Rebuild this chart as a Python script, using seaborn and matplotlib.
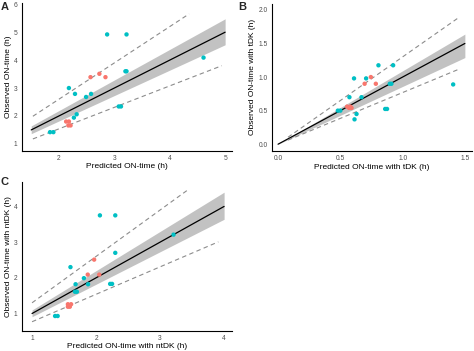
import numpy as np
import pandas as pd
import matplotlib
matplotlib.use("Agg")
import matplotlib.pyplot as plt
import seaborn as sns

sns.set_style("white")
plt.rcParams['font.family'] = ['Liberation Sans', 'DejaVu Sans']

TEAL = "#00BFC4"
SALMON = "#F8766D"

# ---- Panel A data ----
a_teal_x = [2.87, 3.22, 4.61, 3.20, 3.22, 2.18, 2.29, 2.58, 2.49, 3.08, 3.12, 2.32, 2.27, 1.84, 1.90]
a_teal_y = [4.92, 4.92, 4.09, 3.60, 3.60, 3.00, 2.79, 2.79, 2.68, 2.34, 2.34, 2.06, 1.94, 1.42, 1.42]
a_sal_x = [2.73, 2.57, 2.84, 2.13, 2.18, 2.17, 2.21]
a_sal_y = [3.51, 3.39, 3.39, 1.80, 1.80, 1.66, 1.66]

# ---- Panel B data ----
b_teal_x = [0.806, 0.924, 0.61, 0.707, 0.897, 0.91, 1.406, 0.573, 0.67, 0.48, 0.50, 0.86, 0.875, 0.63, 0.614]
b_teal_y = [1.175, 1.175, 0.98, 0.98, 0.90, 0.90, 0.89, 0.70, 0.70, 0.50, 0.50, 0.525, 0.525, 0.45, 0.37]
b_sal_x = [0.745, 0.695, 0.785, 0.554, 0.58, 0.57, 0.59]
b_sal_y = [1.00, 0.90, 0.90, 0.56, 0.56, 0.54, 0.54]

# ---- Panel C data ----
c_teal_x = [2.06, 2.30, 3.21, 2.30, 1.60, 1.81, 1.68, 1.875, 2.22, 2.25, 1.67, 1.70, 1.36, 1.40]
c_teal_y = [3.75, 3.75, 3.21, 2.70, 2.30, 1.99, 1.82, 1.82, 1.83, 1.83, 1.61, 1.61, 0.93, 0.93]
c_sal_x = [1.97, 1.87, 2.05, 1.56, 1.61, 1.56, 1.59]
c_sal_y = [2.51, 2.09, 2.09, 1.26, 1.26, 1.19, 1.19]

# fit line ranges, CI slopes (through origin), +/-30% dashed ranges
fit_range = {"A": (1.5, 5.0), "B": (0.0, 1.5), "C": (1.0, 4.0)}
ci_slopes = {"A": (0.91, 1.096), "B": (0.86, 1.093), "C": (0.91, 1.10)}
upper_range = {"A": (1.53, 4.35), "B": (0.08, 1.46), "C": (1.0, 3.45)}
lower_range = {"A": (1.53, 4.94), "B": (0.08, 1.46), "C": (1.0, 3.91)}
limit_factor = 1.3

x_labels = {"A": "Predicted ON-time (h)", "B": "Predicted ON-time with tDK (h)",
            "C": "Predicted ON-time with ntDK (h)"}
y_labels = {"A": "Observed ON-time (h)", "B": "Observed ON-time with tDK (h)",
            "C": "Observed ON-time with ntDK (h)"}
xticks = {"A": [2, 3, 4, 5], "B": [0.0, 0.5, 1.0, 1.5], "C": [1, 2, 3, 4]}
yticks = {"A": [1, 2, 3, 4, 5, 6], "B": [0.0, 0.5, 1.0, 1.5, 2.0], "C": [1, 2, 3, 4]}
xlims = {"A": (1.33, 5.12), "B": (-0.048, 1.558), "C": (0.84, 4.12)}
ylims = {"A": (0.76, 6.04), "B": (-0.10, 2.095), "C": (0.52, 4.69)}

data = {
    "A": (a_teal_x, a_teal_y, a_sal_x, a_sal_y),
    "B": (b_teal_x, b_teal_y, b_sal_x, b_sal_y),
    "C": (c_teal_x, c_teal_y, c_sal_x, c_sal_y),
}

fig = plt.figure(figsize=(4.74, 3.51), dpi=100)
positions = {
    "A": [0.046, 0.571, 0.443, 0.420],
    "B": [0.574, 0.570, 0.422, 0.420],
    "C": [0.046, 0.058, 0.443, 0.424],
}
letter_pos = {"A": (0.002, 0.995), "B": (0.502, 0.995), "C": (0.002, 0.497)}

for key in ["A", "B", "C"]:
    ax = fig.add_axes(positions[key])
    tx, ty, sx, sy = data[key]
    df = pd.DataFrame({
        "x": tx + sx,
        "y": ty + sy,
        "group": ["teal"] * len(tx) + ["salmon"] * len(sx),
    })
    x0, x1 = fit_range[key]
    xs = np.linspace(x0, x1, 50)
    lo, hi = ci_slopes[key]
    ax.fill_between(xs, xs * lo, xs * hi, color="#A9A9A9", alpha=0.7, lw=0, zorder=1)
    ax.plot(xs, xs, color="black", lw=0.9, zorder=2)
    ux = np.array(upper_range[key])
    lx = np.array(lower_range[key])
    ax.plot(ux, ux * limit_factor, color="#8C8C8C", lw=0.8, ls=(0, (4, 3)), zorder=2)
    ax.plot(lx, lx / limit_factor, color="#8C8C8C", lw=0.8, ls=(0, (4, 3)), zorder=2)
    sns.scatterplot(data=df, x="x", y="y", hue="group",
                    palette={"teal": TEAL, "salmon": SALMON},
                    s=10, linewidth=0, legend=False, ax=ax, zorder=3)
    ax.set_xlim(*xlims[key])
    ax.set_ylim(*ylims[key])
    ax.set_xticks(xticks[key])
    ax.set_yticks(yticks[key])
    if key == "B":
        ax.set_xticklabels([f"{v:.1f}" for v in xticks[key]])
        ax.set_yticklabels([f"{v:.1f}" for v in yticks[key]])
    ax.tick_params(labelsize=4.8, colors="#4D4D4D", length=2, width=0.6, pad=1.2)
    ax.tick_params(axis="both", which="both", color="#333333")
    ax.set_xlabel(x_labels[key], fontsize=6, labelpad=1, color="black")
    ax.set_ylabel(y_labels[key], fontsize=6, labelpad=1.5, color="black")
    for side in ["top", "right"]:
        ax.spines[side].set_visible(False)
    for side in ["left", "bottom"]:
        ax.spines[side].set_color("black")
        ax.spines[side].set_linewidth(0.8)
    fig.text(letter_pos[key][0], letter_pos[key][1], key, fontsize=8,
             fontweight="bold", ha="left", va="top")

fig.savefig("out.png", dpi=100)
